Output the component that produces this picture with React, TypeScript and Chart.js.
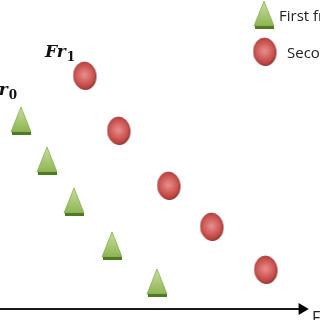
import React, { useEffect, useRef } from "react";
import { Chart, registerables } from "chart.js";

Chart.register(...registerables);

const firstX = [2.1, 4.7, 7.4, 11.2, 15.7];
const firstY = [19.9, 15.9, 11.8, 7.4, 3.7];
const secondX = [8.5, 11.9, 16.9, 21.2, 26.6];
const secondY = [24.4, 18.9, 13.4, 9.3, 5.0];
const legendLabels = ["First fr", "Second fr"];
const legendX = [26.4, 26.5];
const legendY = [30.5, 26.8];
const axisX = [0, 30.2];
const axisY = [1.1, 1.1];
const axisLabel = "Fr";
const seriesLabels = ["Fr", "Fr"];
const seriesSubs = ["0", "1"];
const seriesLabelX = [-1.3, 4.5];
const seriesLabelY = [22.5, 26.3];

function makeTriangle(): HTMLCanvasElement {
  const c = document.createElement("canvas");
  c.width = 22;
  c.height = 30;
  const g = c.getContext("2d")!;
  const grad = g.createLinearGradient(0, 1, 0, 26);
  grad.addColorStop(0, "#c9e09c");
  grad.addColorStop(1, "#8db452");
  g.beginPath();
  g.moveTo(11, 1);
  g.lineTo(21, 26);
  g.lineTo(1, 26);
  g.closePath();
  g.fillStyle = grad;
  g.fill();
  g.strokeStyle = "#8aab58";
  g.lineWidth = 0.8;
  g.stroke();
  g.fillStyle = "#4f7a23";
  g.fillRect(2, 26, 19, 3);
  return c;
}

function makeCircle(): HTMLCanvasElement {
  const c = document.createElement("canvas");
  c.width = 25;
  c.height = 30;
  const g = c.getContext("2d")!;
  g.beginPath();
  g.ellipse(13, 15.5, 11, 13.5, 0, 0, Math.PI * 2);
  g.fillStyle = "#8e3532";
  g.fill();
  const grad = g.createRadialGradient(12, 14, 1, 12, 14, 13);
  grad.addColorStop(0, "#e58a88");
  grad.addColorStop(0.6, "#cf5b58");
  grad.addColorStop(1, "#b8403d");
  g.beginPath();
  g.ellipse(12, 14.5, 11, 13.5, 0, 0, Math.PI * 2);
  g.fillStyle = grad;
  g.fill();
  g.strokeStyle = "#a8403d";
  g.lineWidth = 0.8;
  g.stroke();
  return c;
}

const textPlugin = {
  id: "texts",
  afterDatasetsDraw(chart: any) {
    const { ctx, scales } = chart;
    const xs = scales.x;
    const ys = scales.y;
    ctx.save();
    ctx.fillStyle = "#111";
    ctx.textBaseline = "alphabetic";
    for (let i = 0; i < seriesLabels.length; i++) {
      const px = xs.getPixelForValue(seriesLabelX[i]);
      const py = ys.getPixelForValue(seriesLabelY[i]);
      ctx.font = "italic bold 17px 'DejaVu Serif'";
      ctx.fillText(seriesLabels[i], px, py);
      const w = ctx.measureText(seriesLabels[i]).width;
      ctx.font = "bold 12px 'DejaVu Serif'";
      ctx.fillText(seriesSubs[i], px + w + 1, py + 4);
    }
    ctx.font = "15px 'Open Sans'";
    ctx.fillStyle = "#222";
    ctx.textBaseline = "middle";
    for (let i = 0; i < legendLabels.length; i++) {
      const px = xs.getPixelForValue(legendX[i]);
      const py = ys.getPixelForValue(legendY[i]);
      ctx.fillText(legendLabels[i], px + (i === 0 ? 15 : 22), py + 2);
    }
    const ax = xs.getPixelForValue(axisX[1]);
    const ay = ys.getPixelForValue(axisY[1]);
    ctx.textBaseline = "alphabetic";
    ctx.font = "16px 'Open Sans'";
    ctx.fillText(axisLabel, ax + 10, ay + 14);
    ctx.restore();
  },
};

export default function App() {
  const ref = useRef<HTMLCanvasElement>(null);
  useEffect(() => {
    const tri = makeTriangle();
    const cir = makeCircle();
    const chart = new Chart(ref.current!, {
      type: "scatter",
      data: {
        datasets: [
          {
            type: "line",
            label: "axis",
            data: axisX.map((x, i) => ({ x, y: axisY[i] })),
            borderColor: "#1a1a1a",
            borderWidth: 1.8,
            pointRadius: [0, 5],
            pointStyle: "triangle",
            rotation: 90,
            pointBackgroundColor: "#000",
            pointBorderColor: "#000",
            clip: false,
          } as any,
          {
            label: legendLabels[0],
            data: firstX.map((x, i) => ({ x, y: firstY[i] })),
            pointStyle: tri,
            clip: false,
          } as any,
          {
            label: legendLabels[1],
            data: secondX.map((x, i) => ({ x, y: secondY[i] })),
            pointStyle: cir,
            clip: false,
          } as any,
          {
            label: "legend1",
            data: [{ x: legendX[0], y: legendY[0] }],
            pointStyle: tri,
            clip: false,
          } as any,
          {
            label: "legend2",
            data: [{ x: legendX[1], y: legendY[1] }],
            pointStyle: cir,
            clip: false,
          } as any,
        ],
      },
      options: {
        animation: false,
        responsive: false,
        layout: { padding: 0, autoPadding: false },
        plugins: { legend: { display: false }, tooltip: { enabled: false } },
        scales: {
          x: { type: "linear", min: 0, max: 32, display: false },
          y: { type: "linear", min: 0, max: 32, display: false },
        },
      },
      plugins: [textPlugin],
    });
    return () => chart.destroy();
  }, []);
  return (
    <div style={{ position: "fixed", left: 0, top: 0, width: 320, height: 320, background: "#fff" }}>
      <canvas ref={ref} width={320} height={320} />
    </div>
  );
}
